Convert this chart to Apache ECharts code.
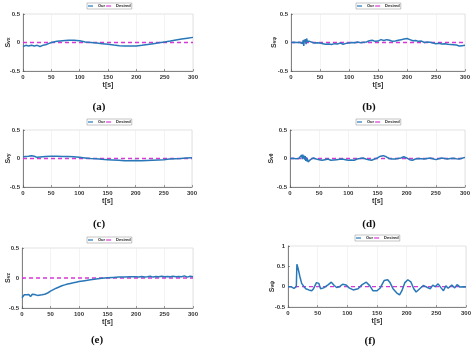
<!DOCTYPE html>
<html><head><meta charset="utf-8">
<script src="https://cdn.jsdelivr.net/npm/echarts@6/dist/echarts.min.js"></script>
<style>html,body{margin:0;padding:0;background:#fff}#c{width:474px;height:348px}</style>
</head><body><div id="c"></div>
<script>
// ---- data ----
const xTicks = [0, 50, 100, 150, 200, 250, 300];
const desiredA = [[0, 0], [300, 0]];
const desiredB = [[0, 0], [300, 0]];
const desiredC = [[0, 0], [300, 0]];
const desiredD = [[0, 0], [300, 0]];
const desiredE = [[0, 0], [300, 0]];
const desiredF = [[0, 0], [300, 0]];
const ourA = [[0,-0.07],[5,-0.05],[10,-0.06],[15,-0.05],[20,-0.06],[25,-0.05],[30,-0.07],[35,-0.05],[40,-0.04],[45,-0.02],[50,0.0],[60,0.02],[70,0.03],[80,0.04],[90,0.04],[100,0.03],[110,0.01],[120,0.0],[130,-0.01],[140,-0.02],[150,-0.03],[160,-0.045],[170,-0.055],[180,-0.06],[190,-0.06],[200,-0.06],[210,-0.05],[220,-0.035],[230,-0.02],[240,-0.005],[250,0.01],[260,0.025],[270,0.045],[280,0.06],[290,0.075],[300,0.09]];
const ourB = [[0,0],[5,0.005],[10,0],[15,0.005],[18,0],[20,-0.02],[21,0.04],[22,-0.06],[23,0.05],[24,0.01],[25,0.06],[26,-0.03],[27,0.07],[28,0.02],[29,0.05],[30,0.0],[31,0.04],[32,0.02],[33,0.03],[35,0.0],[40,-0.01],[45,-0.005],[50,-0.01],[55,-0.02],[60,-0.03],[65,-0.025],[70,-0.035],[75,-0.02],[80,-0.025],[85,-0.01],[90,-0.03],[95,-0.015],[100,-0.01],[105,0.0],[110,-0.005],[115,0.01],[120,-0.005],[125,0.005],[130,0.01],[135,0.03],[140,0.04],[145,0.02],[150,0.025],[155,0.05],[160,0.035],[165,0.05],[170,0.04],[175,0.02],[180,0.025],[185,0.04],[190,0.05],[195,0.06],[200,0.07],[205,0.05],[210,0.03],[215,0.035],[220,0.02],[225,0.025],[230,0.0],[235,0.01],[240,0.005],[245,-0.01],[250,-0.02],[255,-0.015],[260,-0.025],[265,-0.02],[270,-0.03],[275,-0.035],[280,-0.04],[285,-0.045],[290,-0.06],[295,-0.055],[300,-0.05]];
const ourC = [[0,0.03],[5,0.035],[10,0.04],[15,0.05],[20,0.04],[25,0.02],[30,0.025],[35,0.03],[40,0.035],[50,0.04],[60,0.04],[70,0.035],[80,0.035],[90,0.03],[100,0.02],[110,0.01],[120,0.0],[130,-0.005],[140,-0.015],[150,-0.02],[160,-0.025],[170,-0.03],[180,-0.04],[190,-0.04],[200,-0.035],[210,-0.04],[220,-0.035],[230,-0.03],[240,-0.025],[250,-0.02],[260,-0.01],[270,-0.005],[280,0.0],[290,0.01],[300,0.015]];
const ourD = [[0,0],[5,0.005],[10,-0.005],[15,0.0],[18,0.02],[20,0.06],[21,-0.01],[22,0.07],[23,0.0],[24,0.05],[25,-0.02],[26,0.04],[27,-0.04],[28,0.02],[29,-0.05],[30,-0.01],[31,-0.06],[33,-0.03],[35,-0.02],[40,0.01],[45,-0.01],[50,-0.02],[55,-0.03],[60,-0.02],[65,-0.01],[70,-0.03],[75,-0.025],[80,-0.02],[85,-0.015],[90,-0.01],[95,-0.02],[100,-0.03],[105,-0.025],[110,-0.03],[115,-0.01],[120,0.0],[125,0.01],[130,-0.01],[135,-0.02],[140,-0.03],[145,-0.01],[150,0.01],[155,0.04],[160,0.05],[165,0.03],[170,0.0],[175,-0.01],[180,-0.01],[185,0.0],[190,0.01],[195,0.03],[200,0.01],[205,-0.02],[210,-0.03],[215,-0.01],[220,0.0],[225,-0.005],[230,-0.01],[235,0.0],[240,0.01],[245,-0.005],[250,-0.02],[255,-0.005],[260,0.01],[265,0.0],[270,-0.01],[275,0.0],[280,0.005],[285,-0.005],[290,-0.01],[295,0.005],[300,0.02]];
const ourE = [[0,-0.33],[2,-0.3],[4,-0.28],[6,-0.27],[8,-0.28],[10,-0.28],[12,-0.275],[14,-0.28],[15,-0.31],[16,-0.3],[18,-0.27],[20,-0.28],[22,-0.275],[24,-0.29],[25,-0.3],[27,-0.29],[30,-0.29],[35,-0.28],[40,-0.27],[45,-0.25],[50,-0.22],[55,-0.195],[60,-0.17],[65,-0.15],[70,-0.13],[75,-0.115],[80,-0.1],[85,-0.09],[90,-0.08],[95,-0.07],[100,-0.06],[110,-0.045],[120,-0.03],[130,-0.015],[140,-0.005],[150,0.005],[160,0.01],[170,0.015],[180,0.015],[190,0.02],[200,0.02],[205,0.015],[210,0.025],[215,0.015],[220,0.02],[225,0.03],[230,0.015],[235,0.025],[240,0.02],[245,0.03],[250,0.02],[255,0.025],[260,0.02],[265,0.03],[270,0.02],[275,0.025],[280,0.02],[285,0.035],[290,0.015],[295,0.03],[300,0.02]];
const ourF = [[0,0],[5,0],[8,-0.03],[10,-0.04],[14,0.0],[15,0.55],[17,0.45],[20,0.25],[23,0.08],[27,0.0],[30,-0.05],[35,-0.08],[40,-0.1],[43,-0.05],[48,0.1],[52,0.08],[55,-0.05],[58,-0.08],[60,-0.03],[63,-0.06],[68,0.05],[73,0.11],[78,0.03],[82,-0.02],[87,0.0],[92,0.06],[98,0.04],[103,-0.03],[110,-0.08],[118,-0.05],[125,0.05],[132,0.11],[138,0.02],[143,-0.1],[150,-0.1],[155,-0.04],[162,0.15],[168,0.17],[172,0.1],[177,-0.05],[183,-0.15],[188,-0.2],[192,-0.1],[197,0.1],[202,0.17],[207,0.12],[212,-0.05],[216,-0.13],[222,-0.05],[228,0.03],[235,-0.02],[240,-0.05],[244,0.04],[248,0.0],[253,0.07],[258,-0.03],[262,-0.1],[266,0.02],[270,-0.04],[276,0.04],[281,-0.03],[285,0.05],[290,-0.01],[295,0.0],[300,-0.01]];
const yNames = ['vx', 'vφ', 'vy', 'vθ', 'vz', 'vψ'];
const captions = ['(a)', '(b)', '(c)', '(d)', '(e)', '(f)'];
const yMax = [0.5, 0.5, 0.5, 0.5, 0.5, 1];
const legendNames = ['Our', 'Desired'];

// ---- layout ----
const grids = [
  {left: 23, top: 14, width: 170, height: 57},
  {left: 291, top: 14, width: 174, height: 57},
  {left: 23, top: 130, width: 169, height: 57},
  {left: 290, top: 130, width: 175, height: 57},
  {left: 22, top: 248, width: 171, height: 60},
  {left: 288, top: 246, width: 179, height: 61}
];
const legendPos = [[87, 3], [356, 3], [87, 119], [356, 119], [87, 237], [355, 235]];
const capPos = [[99, 107], [369, 107], [99, 224], [369, 224], [97, 340], [370, 341]];
const yNameX = [7, 273, 7, 270, 7, 271];
const ours = [ourA, ourB, ourC, ourD, ourE, ourF];
const desireds = [desiredA, desiredB, desiredC, desiredD, desiredE, desiredF];
const OUR_COLOR = '#2877b8';
const DES_COLOR = '#d638d6';
const FONT = 'Liberation Sans';

const option = {
  animation: false,
  backgroundColor: '#fff',
  grid: grids.map(g => Object.assign({show: true, borderColor: '#d0d0d0', borderWidth: 0.6, backgroundColor: '#fff', containLabel: false}, g)),
  xAxis: grids.map((g, i) => ({
    type: 'value', gridIndex: i, min: 0, max: 300, interval: 50,
    name: 't[s]', nameLocation: 'middle', nameGap: 11,
    nameTextStyle: {fontFamily: FONT, fontSize: 7, fontWeight: 'bold', color: '#333'},
    axisLine: {show: true, onZero: false, lineStyle: {color: '#555', width: 0.7}},
    axisTick: {show: true, inside: true, length: 2, lineStyle: {color: '#555', width: 0.6}},
    axisLabel: {fontFamily: FONT, fontSize: 6, fontWeight: 'bold', color: '#333', margin: 3},
    splitLine: {show: true, lineStyle: {color: '#ebebeb', width: 0.6}}
  })),
  yAxis: grids.map((g, i) => ({
    type: 'value', gridIndex: i, min: -0.5, max: yMax[i], interval: 0.5,
    axisLine: {show: true, lineStyle: {color: '#555', width: 0.7}},
    axisTick: {show: true, inside: true, length: 2, lineStyle: {color: '#555', width: 0.6}},
    axisLabel: {fontFamily: FONT, fontSize: 6, fontWeight: 'bold', color: '#333', margin: 3},
    splitLine: {show: false}
  })),
  legend: legendPos.map(p => ({
    left: p[0], top: p[1], orient: 'horizontal',
    data: [{name: legendNames[0], icon: 'rect'}, {name: legendNames[1], icon: 'rect'}],
    itemWidth: 5, itemHeight: 1.2, itemGap: 1, padding: [1, 1], borderColor: '#888', borderWidth: 0.5,
    backgroundColor: '#fff',
    textStyle: {fontFamily: FONT, fontSize: 4, fontWeight: 'bold', color: '#222'}
  })),
  series: [],
  graphic: []
};
for (let i = 0; i < 6; i++) {
  option.series.push({
    name: legendNames[1], type: 'line', xAxisIndex: i, yAxisIndex: i, data: desireds[i],
    showSymbol: false, lineStyle: {color: DES_COLOR, width: 1.3, type: [4, 3]}, itemStyle: {color: DES_COLOR}, z: 2
  });
  option.series.push({
    name: legendNames[0], type: 'line', xAxisIndex: i, yAxisIndex: i, data: ours[i],
    showSymbol: false, lineStyle: {color: OUR_COLOR, width: 1.5}, itemStyle: {color: OUR_COLOR}, z: 3
  });
}
const chart = echarts.init(document.getElementById('c'), null, {renderer: 'canvas'});
chart.setOption(option);
const gfx = [];
for (let i = 0; i < 6; i++) {
  const zeroY = chart.convertToPixel({xAxisIndex: i, yAxisIndex: i}, [0, 0])[1];
  gfx.push({
    type: 'text', x: yNameX[i], y: zeroY, rotation: Math.PI / 2,
    style: {
      text: '{s|S}{sub|' + yNames[i] + '}', align: 'center', verticalAlign: 'middle',
      rich: {
        s: {fontFamily: FONT, fontSize: 7, fontWeight: 'bold', fill: '#333', lineHeight: 9, verticalAlign: 'bottom'},
        sub: {fontFamily: FONT, fontSize: 5, fontWeight: 'bold', fill: '#333', lineHeight: 9, verticalAlign: 'bottom'}
      }
    }
  });
  gfx.push({
    type: 'text', x: capPos[i][0], y: capPos[i][1],
    style: {text: captions[i], font: 'bold 11px "Liberation Serif"', fill: '#111', align: 'center', verticalAlign: 'middle'}
  });
}
chart.setOption({graphic: gfx});
</script>
</body></html>
